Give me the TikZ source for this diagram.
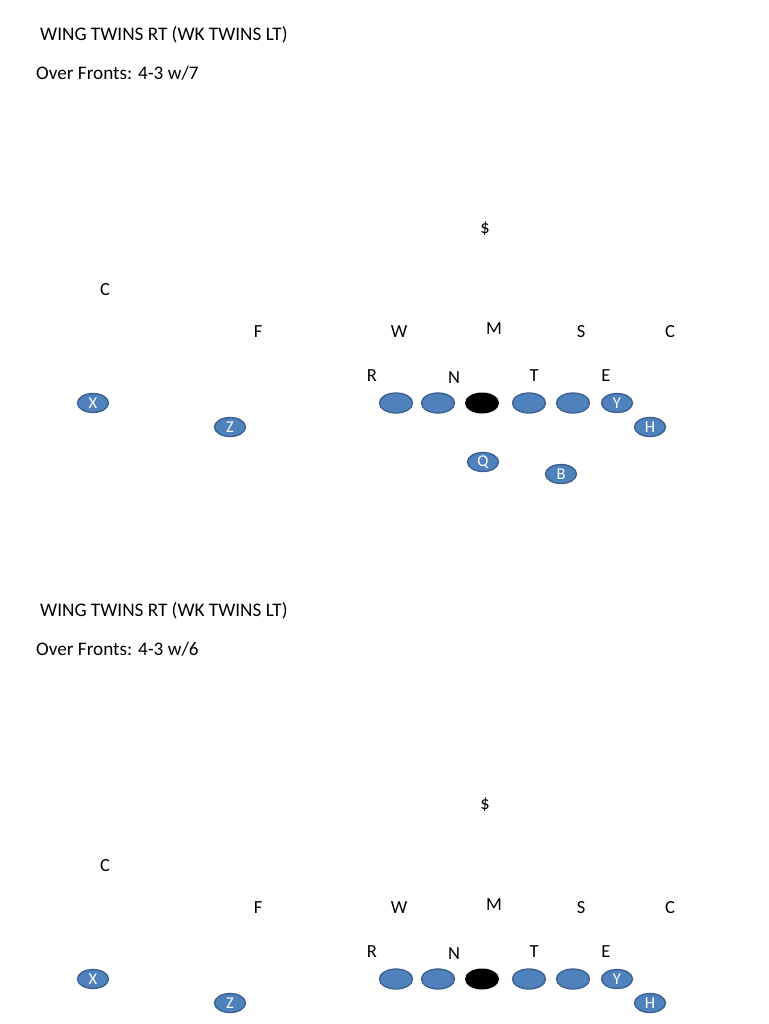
\documentclass[tikz,border=0pt]{standalone}
\usepackage{fontspec}
\setmainfont{Carlito}
\usepackage{xcolor}
\definecolor{player}{HTML}{4F81BD}
\definecolor{playerline}{HTML}{3A5F8E}
\usetikzlibrary{shapes.geometric}
\tikzset{
  man/.style={ellipse,draw=playerline,fill=player,line width=1.3pt,minimum width=33pt,minimum height=20pt,inner sep=0pt,text=white,font=\fontsize{16.5}{16.5}\selectfont},
  wideout/.style={man,minimum width=31pt,minimum height=19pt},
  snapper/.style={ellipse,fill=black,minimum width=34pt,minimum height=21pt,inner sep=0pt},
  dman/.style={inner sep=0pt,font=\fontsize{18.5}{18.5}\selectfont},
  heading/.style={anchor=west,inner sep=0pt,font=\fontsize{19.2}{22}\selectfont}
}

\begin{document}
\begin{tikzpicture}[x=1pt,y=-1pt]
  \useasboundingbox[fill=white] (0,0) rectangle (768,1024);
  \foreach \i/\dy/\front in {1/0/7,2/576/6}{
    \begin{scope}[yshift=-\dy pt]
      % titles
      \node[heading] (title\i) at (40,35) {WING TWINS RT (WK TWINS LT)};
      \node[heading] (front\i) at (36,73) {Over Fronts: 4-3 w/\front};
      % defense
      \node[dman] (safety\i) at (485,229) {\$};
      \node[dman] (cbl\i) at (105,290) {C};
      \node[dman] (free\i) at (258,332) {F};
      \node[dman] (will\i) at (399,332) {W};
      \node[dman] (mike\i) at (494,329) {M};
      \node[dman] (sam\i) at (581,332) {S};
      \node[dman] (cbr\i) at (670,332) {C};
      \node[dman] (rush\i) at (372,376) {R};
      \node[dman] (nose\i) at (454,378) {N};
      \node[dman] (tackle\i) at (534,376) {T};
      \node[dman] (end\i) at (606,376) {E};
      % offense
      \node[man] (lt\i) at (396,403) {};
      \node[man] (lg\i) at (438,403) {};
      \node[snapper] (ctr\i) at (482,403) {};
      \node[man] (rg\i) at (529,403) {};
      \node[man] (rt\i) at (573,403) {};
      \node[wideout] (y\i) at (617,403) {Y};
      \node[wideout] (h\i) at (650,427) {H};
      \node[wideout] (x\i) at (93,403) {X};
      \node[wideout] (z\i) at (230,427) {Z};
      \ifnum\i=1
        \node[wideout] (q\i) at (483,462) {Q};
        \node[wideout] (b\i) at (561,474) {B};
      \fi
    \end{scope}
  }
\end{tikzpicture}
\end{document}
